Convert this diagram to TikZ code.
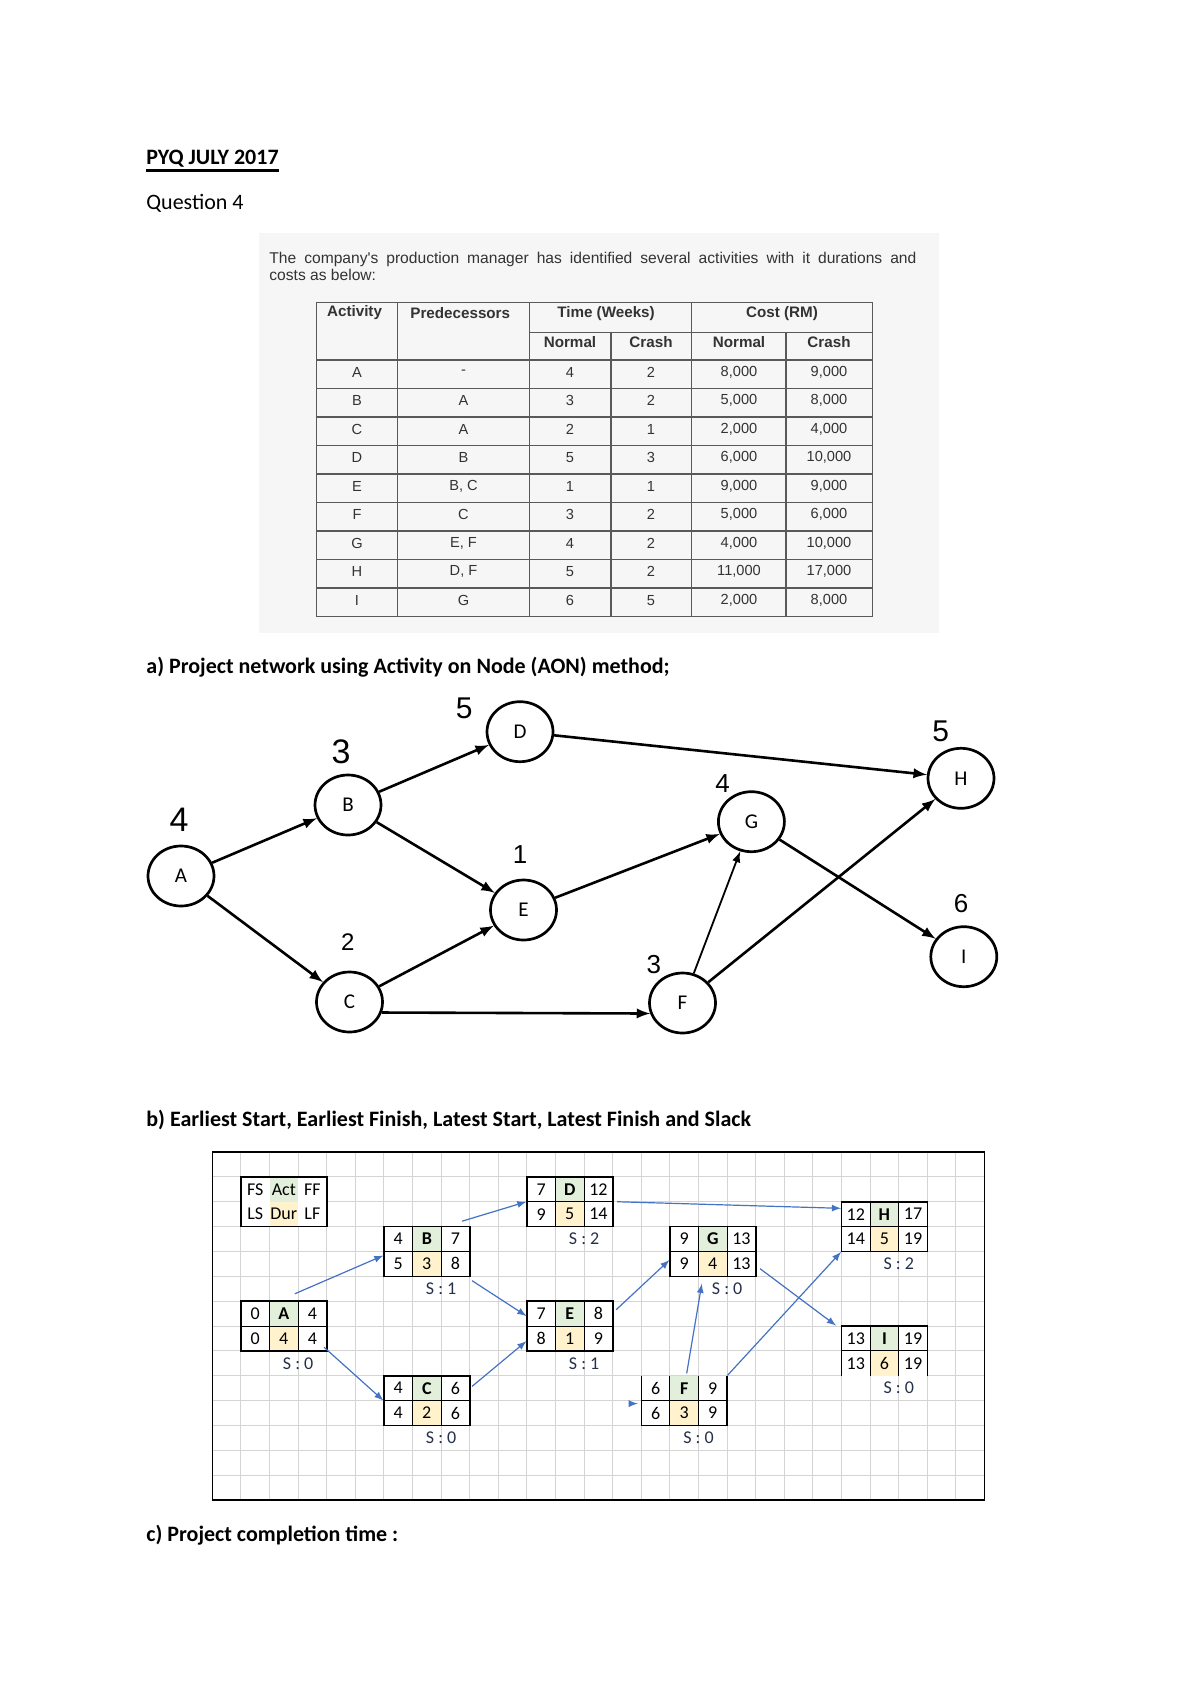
\documentclass[tikz,border=0pt]{standalone}
\usepackage{fontspec}
\setmainfont{Carlito}
\newfontfamily\arialfont{Liberation Sans}
\usetikzlibrary{shapes.geometric}

\definecolor{actgreen}{HTML}{E2EFDA}
\definecolor{duryellow}{HTML}{FFF2CC}
\definecolor{linkblue}{HTML}{4472C4}
\definecolor{gridgray}{HTML}{D4D4D4}
\definecolor{scangray}{HTML}{F6F6F6}
\definecolor{scantext}{HTML}{333333}
\definecolor{slacktext}{HTML}{25304A}

\tikzset{
  heading/.style={anchor=base west,inner sep=0,font=\fontsize{11}{13}\selectfont\bfseries},
  plain/.style={anchor=base west,inner sep=0,font=\fontsize{11}{13}\selectfont},
  scan/.style={inner sep=0,text=scantext,font=\arialfont\fontsize{7.3}{8.8}\selectfont},
  scanhead/.style={scan,font=\arialfont\bfseries\fontsize{7.6}{9}\selectfont},
  scanrule/.style={draw=black!65,line width=0.6pt},
  act/.style={ellipse,draw,line width=1.35pt,minimum width=33pt,minimum height=30pt,inner sep=0,font=\fontsize{10.5}{12}\selectfont},
  weeks/.style={inner sep=0,font=\arialfont\fontsize{#1}{#1}\selectfont},
  weeks/.default=16,
  link/.style={line width=1.3pt,-latex},
  gridline/.style={draw=gridgray,line width=0.5pt},
  boxline/.style={line width=0.8pt},
  cellrule/.style={line width=0.5pt},
  boxframe/.style={rectangle,inner sep=0,minimum width=42.9pt,minimum height=24.86pt},
  cell/.style={inner sep=0,font=\fontsize{9}{10}\selectfont},
  slack/.style={cell,text=slacktext},
  bluelink/.style={draw=linkblue,line width=0.6pt,-latex},
}

\begin{document}
\begin{tikzpicture}[x=0.5pt,y=-0.5pt]
  \useasboundingbox (0,0) rectangle (1200,1696);
  \fill[white] (0,0) rectangle (1200,1696);

  % header
  \node[heading] (title) at (146,165) {PYQ JULY 2017};
  \draw[line width=1.1pt] ([yshift=-2.75pt]title.base west) -- ([yshift=-2.75pt]title.base east);
  \node[plain] (question) at (146,209.5) {Question 4};

  % scanned question
  \fill[scangray] (259,233) rectangle (939,633);
  \node[scan,anchor=base west,font=\arialfont\fontsize{7.8}{9}\selectfont] (intro1) at (269,263.5) {\makebox[323.5pt][s]{The company's production manager has identified several activities with it durations and}};
  \node[scan,anchor=base west,font=\arialfont\fontsize{7.8}{9}\selectfont] (intro2) at (269,280.5) {costs as below:};

  \draw[scanrule] (316.7,302.7) rectangle (872.7,616.7);
  \foreach \x in {397.7,529.3,691.7}
    \draw[scanrule] (\x,302.7) -- (\x,616.7);
  \foreach \x in {611,786}
    \draw[scanrule] (\x,332.3) -- (\x,616.7);
  \draw[scanrule] (529.3,332.3) -- (872.7,332.3);
  \foreach \k in {0,...,8}
    \draw[scanrule] (316.7,{360+28.5*\k}) -- (872.7,{360+28.5*\k});

  \node[scanhead,anchor=west] (hact) at (326.7,313) {Activity};
  \node[scanhead,anchor=west] (hpre) at (410,313) {Predecessors};
  \node[scanhead] (htime) at (606,314) {Time (Weeks)};
  \node[scanhead] (hcost) at (782,314) {Cost (RM)};
  \node[scanhead] (htn) at (570,342.3) {Normal};
  \node[scanhead] (htc) at (651,342.3) {Crash};
  \node[scanhead] (hcn) at (739,342.3) {Normal};
  \node[scanhead] (hcc) at (829,342.3) {Crash};

  \foreach \act/\pre/\tnorm/\tcrash/\cnorm/\ccrash [count=\row from 0] in {A/-/4/2/{8,000}/{9,000}, B/A/3/2/{5,000}/{8,000}, C/A/2/1/{2,000}/{4,000}, D/B/5/3/{6,000}/{10,000}, E/{B, C}/1/1/{9,000}/{9,000}, F/C/3/2/{5,000}/{6,000}, G/{E, F}/4/2/{4,000}/{10,000}, H/{D, F}/5/2/{11,000}/{17,000}, I/G/6/5/{2,000}/{8,000}}{
    \pgfmathsetmacro\yr{372.3+28.5*\row}
    \node[scan] (t\act-a) at (357,\yr) {\act};
    \node[scan] (t\act-p) at (463.5,\yr) {\pre};
    \node[scan] (t\act-tn) at (570,\yr) {\tnorm};
    \node[scan] (t\act-tc) at (651,\yr) {\tcrash};
    \node[scan] (t\act-cn) at (739,\yr) {\cnorm};
    \node[scan] (t\act-cc) at (829,\yr) {\ccrash};
  }

  % a) AON network
  \node[heading] (parta) at (146,673) {a) Project network using Activity on Node (AON) method;};

  \node[act] (A) at (181,876) {A};
  \node[act] (B) at (348,805) {B};
  \node[act] (C) at (349.5,1002) {C};
  \node[act] (D) at (520,731.7) {D};
  \node[act] (E) at (523.5,910) {E};
  \node[act] (F) at (682.5,1003) {F};
  \node[act] (G) at (751.4,821.7) {G};
  \node[act] (H) at (961,778.3) {H};
  \node[act] (I) at (963.8,956.7) {I};

  \draw[link] (A) -- (B);
  \draw[link] (A) -- (C);
  \draw[link] (B) -- (D);
  \draw[link] (B) -- (E);
  \draw[link] (C) -- (E);
  \draw[link] (C.-18) -- (F.198);
  \draw[link] (D) -- (H);
  \draw[link] (E) -- (G);
  \draw[link,line width=0.9pt] (F) -- (G);
  \draw[link] (F) -- (H);
  \draw[link] (G) -- (I);

  \node[weeks=17] (wA) at (179,820) {4};
  \node[weeks=17] (wB) at (341,751.7) {3};
  \node[weeks=15] (wD) at (464.3,708.3) {5};
  \node[weeks=15] (wH) at (940.8,731.7) {5};
  \node[weeks=13] (wG) at (722.7,783.3) {4};
  \node[weeks=13] (wE) at (520,855) {1};
  \node[weeks=12] (wC) at (347.8,941.7) {2};
  \node[weeks=13] (wF) at (653.8,965) {3};
  \node[weeks=13] (wI) at (961,903.3) {6};

  % b) ES, EF, LS, LF and slack
  \node[heading] (partb) at (146,1126.7) {b) Earliest Start, Earliest Finish, Latest Start, Latest Finish and Slack};

  \foreach \i in {1,...,26}
    \draw[gridline] ({212.3+28.6*\i},1152) -- ({212.3+28.6*\i},1500);
  \foreach \j in {1,...,13}
    \draw[gridline] (212.3,{1152+24.86*\j}) -- (984.5,{1152+24.86*\j});
  \draw[line width=0.7pt] (212.3,1152) rectangle (984.5,1500);

  % legend
  \fill[white] (240.9,1176.86) rectangle ++(85.8,49.72);
  \fill[actgreen] (269.5,1176.86) rectangle ++(28.6,24.86);
  \fill[duryellow] (269.5,1201.72) rectangle ++(28.6,24.86);
  \draw[boxline] (240.9,1176.86) rectangle ++(85.8,49.72);
  \node[cell] (kes) at (255.2,1189.3) {FS};
  \node[cell] (kact) at (283.8,1189.3) {Act};
  \node[cell] (kef) at (312.4,1189.3) {FF};
  \node[cell] (kls) at (255.2,1214.2) {LS};
  \node[cell] (kdu) at (283.8,1214.2) {Dur};
  \node[cell] (klf) at (312.4,1214.2) {LF};

  \foreach \n/\i/\j/\es/\ef/\ls/\du/\lf/\sl/\bd in {A/1/6/0/4/0/4/4/0/f, B/6/3/4/7/5/3/8/1/f, C/6/9/4/6/4/2/6/0/f, D/11/1/7/12/9/5/14/2/f, E/11/6/7/8/8/1/9/1/f, F/15/9/6/9/6/3/9/0/t, G/16/3/9/13/9/4/13/0/f, H/22/2/12/17/14/5/19/2/f, I/22/7/13/19/13/6/19/0/b}{
    \pgfmathsetmacro\xa{212.3+28.6*\i}
    \pgfmathsetmacro\ya{1152+24.86*\j}
    \fill[white] (\xa,\ya) rectangle ++(85.8,49.72);
    \fill[actgreen] ({\xa+28.6},\ya) rectangle ++(28.6,24.86);
    \fill[duryellow] ({\xa+28.6},{\ya+24.86}) rectangle ++(28.6,24.86);
    \draw[cellrule] ({\xa+28.6},\ya) -- ++(0,49.72) ({\xa+57.2},\ya) -- ++(0,49.72) (\xa,{\ya+24.86}) -- ++(85.8,0);
    \if\bd f\draw[boxline] (\xa,\ya) rectangle ++(85.8,49.72);\fi
    \if\bd t\draw[boxline] (\xa,\ya) -- ++(0,49.72) -- ++(85.8,0) -- ++(0,-49.72);\fi
    \if\bd b\draw[boxline] (\xa,{\ya+49.72}) -- ++(0,-49.72) -- ++(85.8,0) -- ++(0,49.72);\fi
    \node[boxframe] (b\n) at ({\xa+42.9},{\ya+24.86}) {};
    \node[cell] (b\n-es) at ({\xa+14.3},{\ya+12.43}) {\es};
    \node[cell,font=\fontsize{9}{10}\selectfont\bfseries] (b\n-act) at ({\xa+42.9},{\ya+12.43}) {\n};
    \node[cell] (b\n-ef) at ({\xa+71.5},{\ya+12.43}) {\ef};
    \node[cell] (b\n-ls) at ({\xa+14.3},{\ya+37.29}) {\ls};
    \node[cell] (b\n-du) at ({\xa+42.9},{\ya+37.29}) {\du};
    \node[cell] (b\n-lf) at ({\xa+71.5},{\ya+37.29}) {\lf};
    \node[slack] (b\n-s) at ({\xa+57.2},{\ya+62.15}) {S : \sl};
  }

  \draw[bluelink] ([shift={(11,-7)}]bA.north) -- ([shift={(0,4)}]bB.west);
  \draw[bluelink] ([shift={(-3,-4)}]bA.south east) -- (bC.west);
  \draw[bluelink] ([shift={(-8,-5)}]bB.north east) -- (bD.west);
  \draw[bluelink] ([shift={(2,4)}]bB.south east) -- ([shift={(0,-10)}]bE.west);
  \draw[bluelink] ([shift={(2,11)}]bC.north east) -- ([shift={(0,15)}]bE.west);
  \draw[bluelink] ([shift={(-12,3)}]bF.west) -- ([shift={(-3,3)}]bF.west);
  \draw[bluelink] ([shift={(4,0)}]bD.east) -- ([shift={(0,7)}]bH.north west);
  \draw[bluelink] ([shift={(3,9)}]bE.north east) -- ([shift={(0,8.5)}]bG.west);
  \draw[bluelink] ([shift={(2.5,-2)}]bF.north) -- ([shift={(-11,7)}]bG.south);
  \draw[bluelink] (bF.north east) -- (bH.south west);
  \draw[bluelink] ([shift={(4,-8)}]bG.south east) -- ([shift={(-5,0)}]bI.north west);

  % c)
  \node[heading] (partc) at (146,1541) {c) Project completion time :};
\end{tikzpicture}
\end{document}
